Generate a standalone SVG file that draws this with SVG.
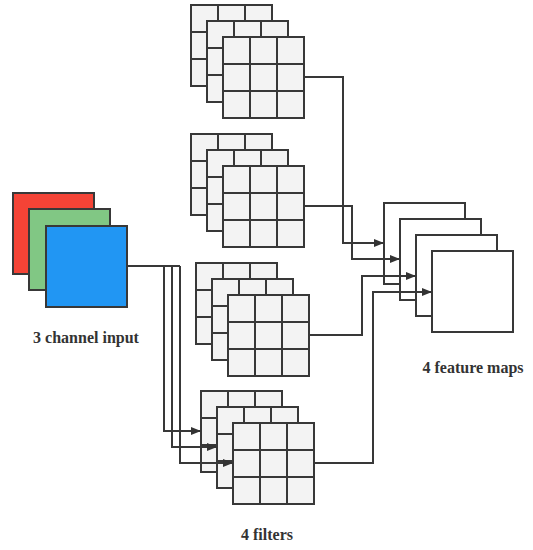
<svg xmlns="http://www.w3.org/2000/svg" xmlns:xlink="http://www.w3.org/1999/xlink" width="533" height="550" viewBox="0 0 533 550">
<style>
.cell{fill:#f3f3f3;stroke:#383838;stroke-width:2}
.gl{stroke:#383838;stroke-width:2;fill:none}
.sq{stroke:#383838;stroke-width:2}
.map{fill:#ffffff;stroke:#383838;stroke-width:2}
.conn{fill:none;stroke:#383838;stroke-width:2}
.lbl{font-family:"Liberation Serif","Times New Roman",serif;font-weight:bold;font-size:16px;fill:#333333;text-anchor:middle}
</style>
<defs>
<g id="grid">
<rect class="cell" x="0" y="0" width="81" height="81"/>
<path class="gl" d="M27,0V81M54,0V81M0,27H81M0,54H81"/>
</g>
<g id="stack">
<use xlink:href="#grid" x="0" y="0"/>
<use xlink:href="#grid" x="16" y="16"/>
<use xlink:href="#grid" x="32" y="32"/>
</g>
<marker id="arr" viewBox="0 0 10 8" refX="10" refY="4" markerWidth="10" markerHeight="8" markerUnits="userSpaceOnUse" orient="auto">
<path d="M0,0L10,4L0,8z" fill="#333333"/>
</marker>
</defs>
<rect x="0" y="0" width="533" height="550" fill="#ffffff"/>
<g id="input">
<rect class="sq" x="13" y="193" width="81" height="81" fill="#f44336"/>
<rect class="sq" x="29" y="209" width="81" height="81" fill="#81c784"/>
<rect class="sq" x="46" y="226" width="81" height="81" fill="#2196f3"/>
<text class="lbl" x="86" y="343">3 channel input</text>
</g>
<g id="filter1"><use xlink:href="#stack" x="191" y="5"/></g>
<g id="filter2"><use xlink:href="#stack" x="191" y="134"/></g>
<g id="filter3"><use xlink:href="#stack" x="196" y="263"/></g>
<g id="filter4"><use xlink:href="#stack" x="201" y="391"/>
<text class="lbl" x="267" y="540">4 filters</text>
</g>
<g id="maps">
<rect class="map" x="384" y="203" width="81" height="81"/>
<rect class="map" x="400" y="219" width="81" height="81"/>
<rect class="map" x="416" y="235" width="81" height="81"/>
<rect class="map" x="432" y="251" width="81" height="81"/>
<text class="lbl" x="473" y="373">4 feature maps</text>
</g>
<g id="connectors">
<path class="conn" d="M127,266H180"/>
<path class="conn" d="M164,266V431H201" marker-end="url(#arr)"/>
<path class="conn" d="M172,266V447H217" marker-end="url(#arr)"/>
<path class="conn" d="M180,266V463H233" marker-end="url(#arr)"/>
<path class="conn" d="M304,77H343V243H384" marker-end="url(#arr)"/>
<path class="conn" d="M304,206H352V259H400" marker-end="url(#arr)"/>
<path class="conn" d="M309,335H362V276H416" marker-end="url(#arr)"/>
<path class="conn" d="M314,463H373V292H432" marker-end="url(#arr)"/>
</g>
</svg>
